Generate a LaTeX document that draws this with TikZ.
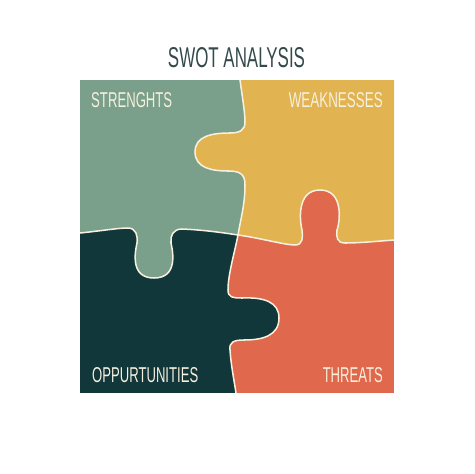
\documentclass[tikz,border=0pt]{standalone}
\usepackage{fontspec}
\setmainfont{Liberation Sans}
\usepackage{tikz}
\definecolor{sage}{RGB}{122, 159, 138}
\definecolor{mustard}{RGB}{226, 180, 81}
\definecolor{deepteal}{RGB}{17, 55, 59}
\definecolor{coral}{RGB}{224, 104, 76}
\definecolor{cream}{RGB}{246, 240, 222}
\definecolor{titlegray}{RGB}{52, 73, 75}

% seams between the four pieces, each one starts where the last ended
\newcommand{\seamtop}{.. controls (242, 95) and (245, 112) .. (245, 122)
    .. controls (245, 130) and (240, 133) .. (230, 133)
    .. controls (212, 133) and (195, 136) .. (195, 152)
    .. controls (195, 168) and (212, 171) .. (228, 171)
    .. controls (240, 171) and (245, 174) .. (245, 185)
    .. controls (245, 205) and (240, 222) .. (238, 235)}
\newcommand{\seambottom}{.. controls (234, 255) and (228, 275) .. (228, 290)
    .. controls (228, 297) and (232, 298) .. (242, 298)
    .. controls (264, 297) and (279, 302) .. (279, 318)
    .. controls (279, 336) and (262, 340) .. (244, 340)
    .. controls (234, 340) and (229, 342) .. (230, 350)
    .. controls (231, 365) and (234, 380) .. (236, 393)}
\newcommand{\seamleft}{.. controls (100, 231) and (118, 228) .. (128, 228)
    .. controls (136, 228) and (138, 236) .. (137, 243)
    .. controls (135, 252) and (130, 278) .. (154, 278)
    .. controls (178, 278) and (173, 252) .. (171, 243)
    .. controls (170, 236) and (173, 229) .. (182, 229)
    .. controls (205, 230) and (225, 233) .. (238, 235)}
\newcommand{\seamright}{.. controls (260, 238) and (285, 245) .. (295, 245)
    .. controls (303, 245) and (303, 237) .. (302, 230)
    .. controls (300, 222) and (296, 190) .. (320, 190)
    .. controls (344, 190) and (340, 222) .. (337, 230)
    .. controls (336, 237) and (337, 243) .. (345, 243)
    .. controls (360, 243) and (380, 241) .. (394, 240)}

\begin{document}
\begin{tikzpicture}[x=0.03cm, y=-0.03cm,
        seam/.style={line width=1.3pt, color=cream, line join=round},
        swot/.style={inner sep=0pt, text=cream}]

    \useasboundingbox (0, 0) rectangle (474, 474);

    \fill[color=coral] (80, 80) rectangle (394, 393);

    \begin{scope}
        \clip (240, 80) \seamtop \seambottom -- (80, 393) -- (80, 80) -- cycle;
        \fill[color=deepteal] (80, 80) rectangle (394, 393);
    \end{scope}

    \fill[color=mustard] (80, 233) \seamleft \seamright -- (394, 80) -- (80, 80) -- cycle;

    \begin{scope}
        \clip (240, 80) \seamtop \seambottom -- (80, 393) -- (80, 80) -- cycle;
        \fill[color=sage] (80, 233) \seamleft \seamright -- (394, 80) -- (80, 80) -- cycle;
    \end{scope}

    \draw[seam] (240, 80) \seamtop \seambottom;
    \draw[seam] (80, 233) \seamleft \seamright;

    \node[inner sep=0pt, text=titlegray] (title) at (236.5, 58) {\resizebox{4.11cm}{0.6cm}{SWOT ANALYSIS}};

    \node[swot, anchor=north west] (strengths) at (91, 92) {\resizebox{2.43cm}{0.45cm}{STRENGHTS}};
    \node[swot, anchor=north east] (weaknesses) at (383, 92) {\resizebox{2.82cm}{0.45cm}{WEAKNESSES}};
    \node[swot, anchor=south west] (opportunities) at (92, 383) {\resizebox{3.18cm}{0.45cm}{OPPURTUNITIES}};
    \node[swot, anchor=south east] (threats) at (383, 383) {\resizebox{1.8cm}{0.45cm}{THREATS}};

\end{tikzpicture}
\end{document}
